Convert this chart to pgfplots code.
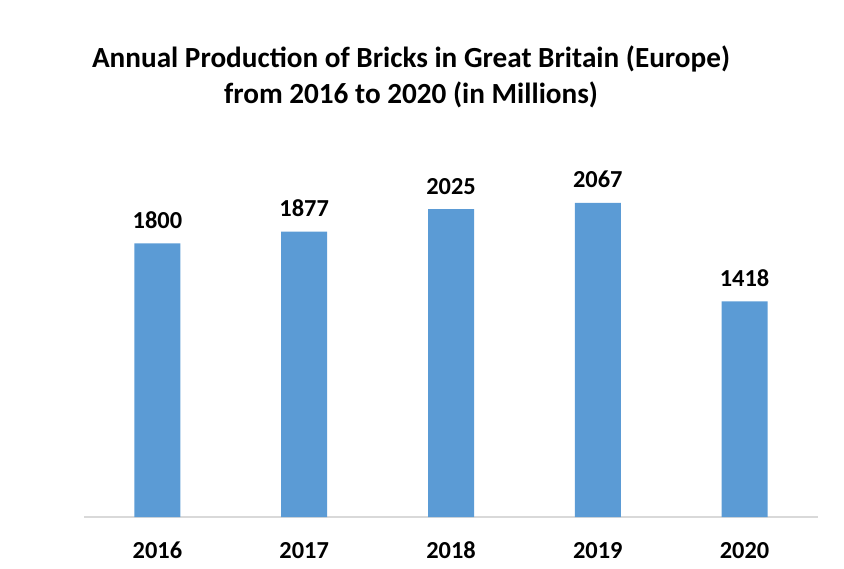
\documentclass[border=0pt]{standalone}
\usepackage{pgfplots}
\pgfplotsset{compat=1.18}
\usepackage{fontspec}
\setmainfont{Carlito}
\definecolor{barblue}{HTML}{5B9BD5}
\definecolor{basegray}{HTML}{D9D9D9}

\begin{document}
\begin{tikzpicture}[x=1pt,y=1pt]
% page frame: 844 x 568 px at 0.5pt per px
\path[use as bounding box] (0,0) rectangle (422,284);
\node[anchor=base, font=\bfseries\fontsize{14.6}{16}\selectfont] at (205.5,250)
  {Annual Production of Bricks in Great Britain (Europe)};
\node[anchor=base, font=\bfseries\fontsize{14.6}{16}\selectfont] at (205.5,232)
  {from 2016 to 2020 (in Millions)};
\begin{axis}[
    at={(42pt,25.5pt)}, anchor=south west,
    scale only axis,
    width=367pt, height=190pt,
    xmin=-0.5, xmax=4.5,
    ymin=0, ymax=2500,
    axis y line=none,
    axis x line*=bottom,
    x axis line style={basegray, line width=0.6pt, -},
    xtick=data,
    xticklabels={2016,2017,2018,2019,2020},
    xtick style={draw=none},
    xticklabel style={font=\bfseries\fontsize{12.2}{14}\selectfont, anchor=base, yshift=-16.5pt},
    ybar, bar width=23pt,
    nodes near coords,
    /pgf/number format/.cd, assume math mode=true, 1000 sep={}, fixed, precision=0, /pgfplots/.cd,
    every node near coord/.append style={font=\bfseries\fontsize{12.2}{14}\selectfont, anchor=base, yshift=7.5pt},
    clip=false,
]
\addplot[fill=barblue, draw=none] coordinates {
    (0,1800) (1,1877) (2,2025) (3,2067) (4,1418)
};
\end{axis}
\end{tikzpicture}
\end{document}
